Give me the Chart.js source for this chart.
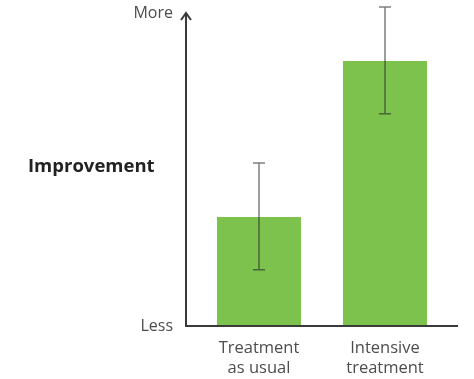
<!DOCTYPE html>
<html>
<head>
<meta charset="utf-8">
<script src="https://cdn.jsdelivr.net/npm/chart.js@4/dist/chart.umd.min.js"></script>
<style>
	body { margin: 0; background: #fff; }
	#wrap { width: 474px; height: 379px; }
</style>
</head>
<body>
<div id="wrap"><canvas id="chart" width="474" height="379"></canvas></div>
<script>
const categories = [["Treatment", "as usual"], ["Intensive", "treatment"]];
const improvement = [34.2, 83.1];
const errorLow = [17.6, 66.5];
const errorHigh = [51.1, 100];
const yTickValues = [0, 98];
const yTickLabels = ["Less", "More"];
const yTitle = "Improvement";

const barGreen = "#7cc24d";
const axisColor = "#3a3a3a";
const textGray = "#4d4d4d";

// axes with the arrow, error bars and the horizontal title are drawn by hand
const extras = {
	id: "extras",
	afterDatasetsDraw(chart) {
		const ctx = chart.ctx;
		const y = chart.scales.y;
		const x = chart.scales.x;
		const area = chart.chartArea;

		ctx.save();
		ctx.strokeStyle = "rgba(40, 40, 40, 0.6)";
		ctx.lineWidth = 1.5;
		improvement.forEach((v, i) => {
			const cx = x.getPixelForValue(i);
			const top = y.getPixelForValue(errorHigh[i]);
			const bot = y.getPixelForValue(errorLow[i]);
			ctx.beginPath();
			ctx.moveTo(cx, top);
			ctx.lineTo(cx, bot);
			ctx.moveTo(cx - 6, top);
			ctx.lineTo(cx + 6, top);
			ctx.moveTo(cx - 6, bot);
			ctx.lineTo(cx + 6, bot);
			ctx.stroke();
		});

		const ax = area.left - 10;
		const base = area.bottom;
		ctx.strokeStyle = axisColor;
		ctx.lineWidth = 2;
		ctx.beginPath();
		ctx.moveTo(ax, base);
		ctx.lineTo(ax, 13);
		ctx.moveTo(ax - 5, 20);
		ctx.lineTo(ax, 13);
		ctx.lineTo(ax + 5, 20);
		ctx.moveTo(ax - 1, base);
		ctx.lineTo(area.right + 10, base);
		ctx.stroke();

		ctx.fillStyle = "#222";
		ctx.font = "bold 18.5px 'Open Sans'";
		ctx.textAlign = "left";
		ctx.textBaseline = "middle";
		ctx.fillText(yTitle, 28, 167);
		ctx.restore();
	},
};

new Chart(document.getElementById("chart"), {
	type: "bar",
	data: {
		labels: categories,
		datasets: [
			{
				data: improvement,
				backgroundColor: barGreen,
				barPercentage: 1,
				categoryPercentage: 0.667,
			},
		],
	},
	options: {
		responsive: false,
		animation: false,
		layout: { padding: { top: 7, right: 26, left: 0, bottom: 0 } },
		plugins: { legend: { display: false }, tooltip: { enabled: false } },
		scales: {
			x: {
				grid: { display: false, drawTicks: false },
				border: { display: false },
				afterFit: (s) => {
					s.height = 53;
					s.paddingLeft = 0;
					s.paddingRight = 0;
				},
				ticks: {
					color: textGray,
					padding: 12,
					font: { family: "Open Sans", size: 16.5, lineHeight: 1.22 },
				},
			},
			y: {
				min: 0,
				max: 100,
				grid: { display: false, drawTicks: false },
				border: { display: false },
				afterFit: (s) => {
					s.width = 196;
					s.paddingTop = 0;
					s.paddingBottom = 0;
				},
				afterBuildTicks: (s) => { s.ticks = yTickValues.map((v) => ({ value: v })); },
				ticks: {
					autoSkip: false,
					color: textGray,
					padding: 23,
					font: { family: "Open Sans", size: 16 },
					callback: (v) => yTickLabels[yTickValues.indexOf(v)],
				},
			},
		},
	},
	plugins: [extras],
});
</script>
</body>
</html>
